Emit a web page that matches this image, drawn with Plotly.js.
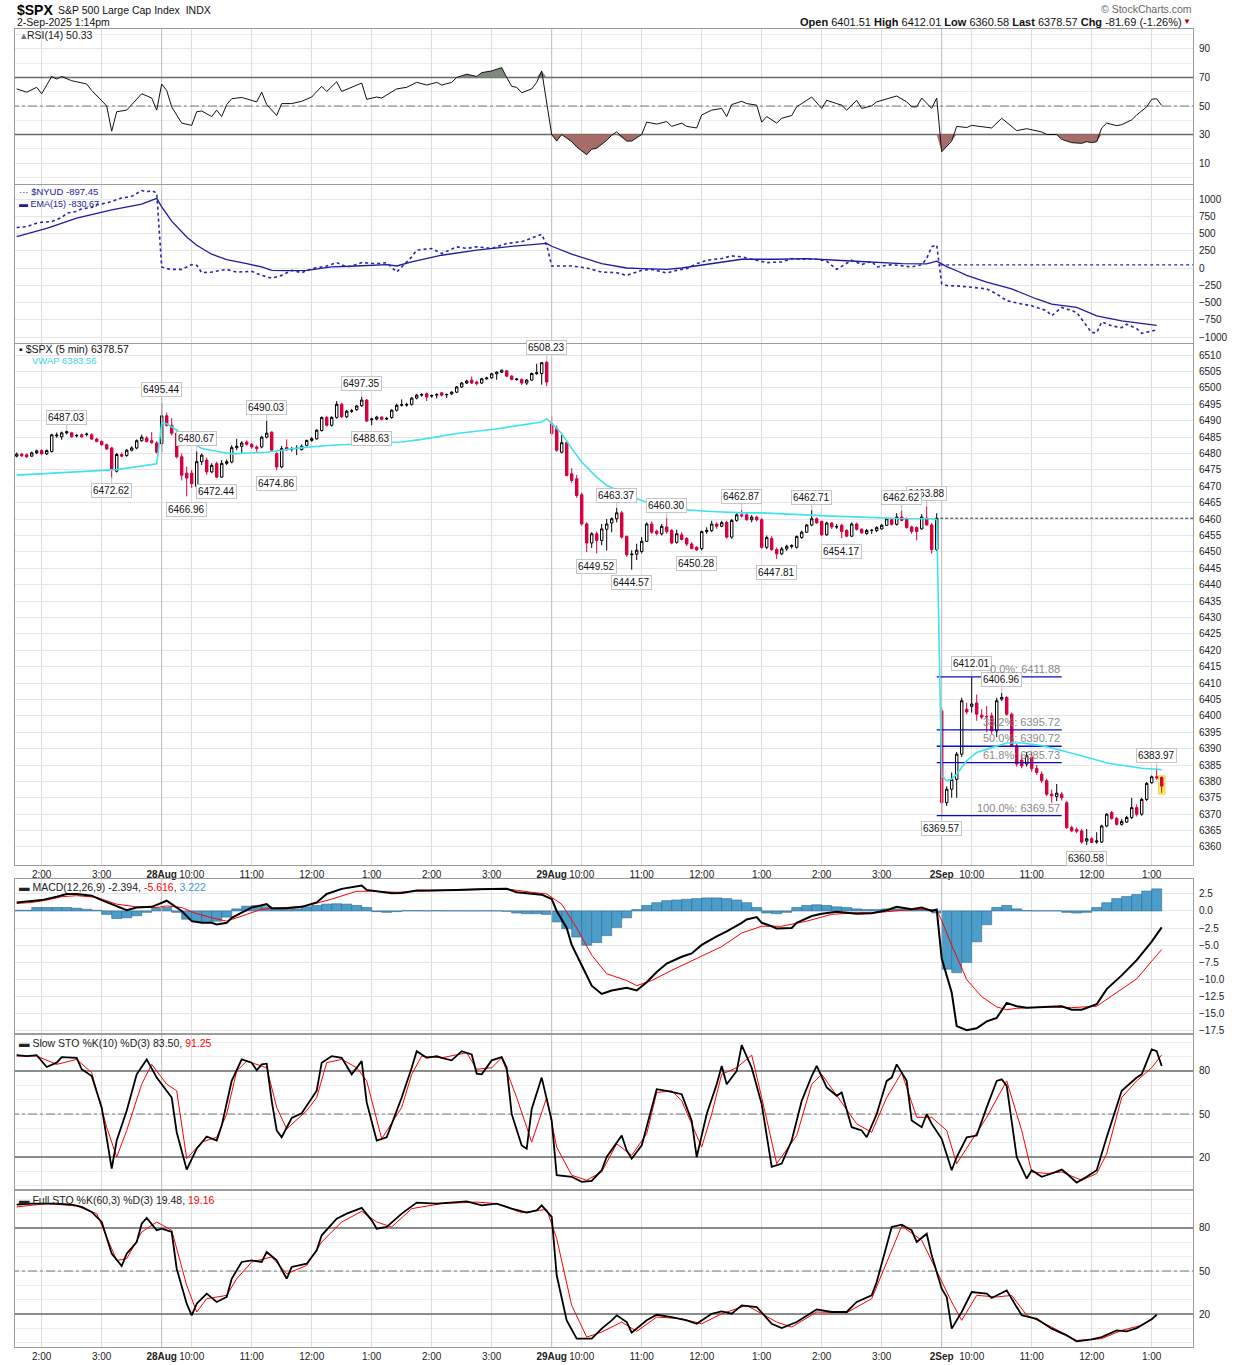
<!DOCTYPE html>
<html><head><meta charset="utf-8">
<script src="https://cdn.plot.ly/plotly-3.0.1.min.js"></script>
<style>html,body{margin:0;padding:0;background:#fff}#chart{width:1240px;height:1365px}</style>
</head><body><div id="chart"></div>
<script>
// ---------------- DATA ----------------
const tickBars = [5,17,29,35,47,59,71,83,95,107,113,125,137,149,161,173,185,191,203,215,227];
const tickText = ['2:00','3:00','<b>28Aug</b>','10:00','11:00','12:00','1:00','2:00','3:00','<b>29Aug</b>','10:00','11:00','12:00','1:00','2:00','3:00','<b>2Sep</b>','10:00','11:00','12:00','1:00'];
const sessionStarts = [29,107,185];

const openP = [
6479.2,6479.8,6479.6,6479.2,6480.2,6480.9,6479.9,6480.6,6485.4,6485.1,6486.3,6486.3,6485.4,6485.7,6485.8,6485.7,6484.4,6483.7,6482.7,6481.7,6474.6,6479.7,6479.4,6481.0,6481.7,6483.9,6484.7,6483.9,6483.2,
6483.0,6491.5,6488.6,6486.2,6479.0,6474.0,6474.0,6470.0,6477.5,6478.0,
6474.4,6476.9,6472.8,6477.0,6477.4,6481.8,6482.2,6483.5,6482.8,6482.0,
6482.0,6485.0,6486.5,6480.0,6475.9,6481.8,6481.2,6481.5,6481.2,6482.5,
6484.0,6484.5,6487.0,6491.0,6488.6,6491.0,6495.0,6491.2,6492.9,6493.4,
6494.6,6496.3,6490.3,6490.5,6491.1,6490.5,6491.0,6493.2,6494.7,6494.8,
6495.0,6496.9,6497.8,6498.2,6497.5,6497.8,6498.5,6497.9,6498.2,6498.7,
6500.3,6501.5,6502.4,6501.8,6501.5,6502.8,6503.1,6504.3,6504.8,6505.2,
6503.6,6502.6,6502.6,6501.5,6502.4,6504.4,6504.4,6507.8,
6489.1,6487.6,6480.4,6483.3,6473.8,6472.3,6467.4,6458.5,6452.7,6455.5,
6453.5,6456.9,6458.8,6460.1,6461.9,6454.7,6449.1,6449.3,6450.1,6453.2,
6458.5,6456.3,6455.5,6457.6,6456.5,6452.9,6455.2,6454.1,6452.4,6451.4,
6451.0,6456.2,6456.5,6458.5,6457.8,6459.0,6454.5,6459.6,6461.3,6461.3,
6459.8,6460.6,6459.8,6451.4,6454.1,6450.7,6449.4,6450.9,6451.7,6451.4,
6454.4,6456.0,6458.2,6460.1,6459.3,6455.2,6458.8,6457.6,6458.1,6456.5,
6454.8,6458.5,6456.9,6455.6,6456.5,6456.5,6457.0,6458.1,6459.8,6458.4,
6460.6,6460.1,6457.6,6457.4,6457.0,6460.3,6458.2,6450.7,
6401.51,6373.5,6377.6,6380.6,6388.3,6402.0,6402.9,6403.9,6400.2,6399.8,
6400.0,6395.4,6405.1,6405.6,6400.5,6390.9,6386.5,6385.3,6387.3,6383.9,
6382.2,6380.2,6376.1,6375.4,6376.1,6373.5,6365.9,6365.3,6364.9,6361.8,
6362.5,6361.5,6361.5,6366.4,6370.5,6368.7,6366.9,6367.6,6369.0,6372.0,
6370.0,6374.5,6379.6,6381.4,6381.2];
const highP = [
6480.3,6480.2,6480.0,6480.6,6481.2,6481.3,6481.2,6486.0,6486.4,6486.7,6487.03,6486.6,6486.0,6486.1,6486.4,6486.2,6484.8,6484.0,6483.0,6482.0,6480.2,6480.3,6481.4,6482.2,6484.3,6485.8,6485.3,6486.5,6483.8,
6495.44,6492.5,6490.8,6487.5,6480.0,6476.0,6475.0,6480.67,6480.0,6478.8,
6477.0,6477.5,6478.0,6478.2,6482.5,6484.5,6483.8,6484.0,6483.2,6482.5,
6485.4,6490.03,6486.8,6480.5,6482.3,6484.3,6482.0,6482.5,6482.8,6484.2,
6485.0,6487.4,6491.3,6491.5,6491.4,6496.0,6495.5,6493.3,6493.6,6494.8,
6497.35,6496.6,6490.9,6491.5,6491.4,6491.2,6493.5,6495.2,6496.5,6495.5,
6497.2,6498.2,6498.4,6498.6,6498.0,6498.4,6498.8,6498.3,6499.0,6500.6,
6501.8,6502.5,6503.5,6502.2,6503.1,6503.4,6504.6,6505.1,6505.6,6505.5,
6503.9,6503.0,6502.9,6502.7,6504.7,6507.4,6507.9,6508.23,
6491.6,6488.5,6485.6,6484.0,6475.5,6473.5,6468.0,6459.0,6456.0,6456.2,
6458.5,6460.0,6460.5,6463.37,6462.5,6455.0,6450.5,6452.5,6454.5,6459.0,
6459.3,6456.8,6458.5,6460.30,6457.0,6456.8,6456.0,6454.5,6453.0,6451.8,
6456.5,6457.5,6459.5,6459.0,6459.5,6459.5,6460.0,6461.8,6462.87,6461.8,
6461.2,6461.0,6460.3,6455.0,6454.8,6451.3,6451.5,6452.2,6452.3,6455.0,
6456.5,6458.5,6462.71,6460.5,6459.5,6459.2,6459.0,6458.5,6458.6,6457.0,
6459.0,6458.9,6457.2,6457.0,6457.0,6457.8,6458.5,6460.5,6460.2,6461.8,
6462.62,6460.5,6458.0,6457.8,6461.5,6463.88,6458.8,6461.8,
6402.5,6378.5,6382.7,6389.0,6405.5,6404.0,6412.01,6406.5,6402.0,6403.0,
6401.0,6405.5,6406.96,6406.0,6401.0,6391.5,6388.0,6389.0,6389.0,6385.0,
6383.0,6380.8,6377.5,6379.2,6376.8,6374.0,6366.5,6366.0,6365.5,6365.5,
6363.0,6364.5,6366.8,6370.3,6371.0,6369.2,6368.5,6369.5,6375.0,6373.0,
6375.0,6379.8,6381.8,6383.97,6381.5];
const lowP = [
6478.8,6479.0,6478.6,6479.0,6479.8,6479.6,6479.5,6480.3,6484.8,6484.2,6485.8,6484.9,6484.9,6484.8,6485.2,6484.2,6483.4,6482.4,6481.1,6472.62,6474.2,6478.9,6479.0,6480.6,6481.3,6483.6,6483.4,6483.0,6480.0,
6480.5,6488.2,6485.5,6478.5,6471.8,6466.96,6469.5,6469.0,6476.5,6473.5,
6474.0,6472.44,6472.6,6476.5,6477.0,6481.0,6480.0,6482.4,6481.5,6480.5,
6481.6,6484.6,6480.5,6474.86,6475.5,6480.8,6480.6,6479.5,6480.9,6482.2,
6483.6,6484.2,6486.7,6488.2,6488.2,6490.6,6490.8,6490.8,6492.4,6493.0,
6494.2,6489.6,6488.63,6490.1,6490.1,6490.2,6490.6,6492.8,6494.3,6494.3,
6494.6,6496.5,6497.3,6496.0,6497.0,6496.8,6497.4,6496.9,6497.8,6498.4,
6500.0,6501.2,6501.2,6500.8,6501.2,6502.5,6502.8,6502.5,6504.5,6503.3,
6502.3,6502.2,6500.9,6500.9,6502.1,6504.0,6501.0,6500.5,
6485.5,6480.5,6480.0,6473.0,6471.0,6466.5,6458.0,6449.9,6451.2,6449.52,
6452.0,6450.4,6456.0,6459.0,6454.0,6448.5,6444.57,6447.5,6449.5,6453.0,
6455.5,6455.0,6455.0,6455.5,6452.3,6452.5,6453.5,6451.8,6450.8,6450.28,
6450.5,6455.5,6456.0,6457.0,6457.5,6454.0,6454.0,6459.2,6460.5,6459.5,
6459.0,6459.3,6451.0,6450.8,6450.3,6447.81,6449.0,6450.3,6451.0,6451.0,
6454.0,6455.8,6457.8,6458.5,6454.8,6454.9,6457.0,6457.0,6454.17,6454.5,
6454.5,6456.5,6455.5,6455.2,6455.5,6456.0,6456.8,6457.9,6458.0,6458.0,
6459.3,6457.1,6455.5,6453.5,6456.8,6458.0,6449.5,6450.2,
6369.57,6372.5,6375.0,6375.0,6387.5,6400.5,6401.0,6398.5,6399.0,6395.0,
6394.5,6393.5,6404.5,6400.0,6390.5,6384.5,6384.0,6384.5,6383.0,6382.0,
6379.5,6375.5,6373.5,6374.0,6374.2,6365.5,6364.5,6364.2,6361.0,6360.58,
6361.2,6361.0,6361.2,6366.0,6368.3,6366.5,6366.5,6367.3,6368.5,6369.3,
6369.5,6374.0,6379.3,6380.5,6376.5];
const closeP = [
6479.8,6479.3,6479.0,6480.2,6480.8,6479.9,6480.9,6485.7,6485.6,6486.3,6486.6,6485.1,6485.5,6485.1,6485.9,6484.4,6483.7,6482.7,6481.4,6475.1,6479.7,6479.2,6481.0,6481.7,6483.9,6485.0,6483.7,6483.3,6480.4,
6491.5,6488.6,6486.2,6479.0,6473.4,6472.5,6470.8,6477.5,6479.5,6474.4,
6476.4,6472.8,6477.0,6477.5,6481.8,6482.2,6483.2,6482.8,6482.0,6481.5,
6485.0,6486.2,6481.0,6475.9,6481.5,6481.2,6481.3,6481.6,6482.2,6484.0,
6484.5,6487.1,6491.0,6488.6,6491.0,6495.0,6491.2,6492.9,6493.0,6494.5,
6496.3,6489.9,6490.5,6491.1,6490.4,6490.7,6493.2,6494.7,6494.9,6494.9,
6496.9,6497.8,6498.0,6497.2,6497.7,6498.0,6497.8,6498.0,6498.7,6500.3,
6501.5,6502.1,6501.5,6501.3,6502.8,6503.0,6504.3,6504.8,6505.4,6503.6,
6502.6,6502.7,6501.5,6502.4,6504.4,6504.6,6507.7,6501.8,
6486.1,6481.0,6483.3,6473.3,6471.8,6467.2,6458.5,6452.7,6455.5,6453.5,
6457.0,6458.5,6460.1,6461.9,6454.5,6449.1,6449.3,6450.5,6453.2,6458.5,
6456.0,6455.6,6457.8,6456.2,6452.7,6455.5,6453.8,6452.4,6451.0,6450.6,
6456.2,6456.5,6458.5,6457.8,6458.9,6454.5,6459.6,6461.3,6461.0,6459.8,
6460.6,6459.8,6451.4,6454.4,6450.7,6449.4,6450.9,6451.7,6451.9,6454.7,
6456.0,6458.2,6460.1,6458.9,6455.2,6458.8,6457.6,6457.7,6456.2,6454.8,
6458.5,6456.9,6455.8,6456.5,6456.6,6457.4,6458.1,6460.1,6458.4,6460.6,
6459.6,6457.4,6456.2,6456.2,6460.6,6458.2,6450.7,6460.26,
6373.5,6377.6,6380.6,6388.3,6404.6,6401.2,6403.6,6400.5,6399.6,6399.7,
6395.4,6404.6,6405.6,6400.5,6390.9,6385.3,6384.7,6387.8,6383.9,6382.7,
6380.2,6376.1,6375.6,6376.4,6375.0,6365.9,6364.9,6364.8,6361.5,6362.5,
6361.4,6361.8,6366.4,6370.0,6368.7,6366.9,6367.8,6369.0,6372.0,6370.0,
6374.5,6379.4,6381.4,6381.1,6378.57];

const vwapPts = [[0,6473.4],[10,6474.2],[20,6475.1],[28,6476.9],[29,6489.3],[30,6489.1],[32,6487.1],[35,6483.5],[37,6481.5],[41,6480.4],[43,6479.9],[50,6480.4],[57,6481.8],[63,6482.5],[70,6483.0],[77,6483.5],[81,6484.3],[88,6486.1],[95,6487.3],[101,6488.6],[105,6489.6],[106,6490.6],
[107,6489.0],[109,6486.1],[111,6481.5],[113,6477.4],[116,6472.8],[118,6470.3],[121,6468.1],[125,6465.7],[128,6464.2],[131,6463.1],[138,6462.4],[145,6461.9],[149,6461.9],[156,6461.3],[163,6460.9],[169,6460.6],[176,6460.2],[183,6460.1],[184,6459.8],
[185,6381.8],[186,6380.2],[187,6380.7],[188,6382.2],[190,6386.3],[192,6388.8],[195,6390.3],[198,6391.7],[201,6391.7],[205,6390.9],[208,6389.8],[212,6388.3],[215,6387.0],[218,6385.6],[222,6384.6],[225,6384.0],[228,6383.7],[229,6383.56]];

const peakBars = [10,29,36,50,69,106,120,130,145,159,182,177,191,197,228];
const troughBars = [19,34,40,52,71,116,123,136,152,165,185,214];
const prevClose = 6460.26;
const fibLevels = [6411.88,6395.72,6390.72,6385.73,6369.57];
const fibNames = ['0.0%','38.2%','50.0%','61.8%','100.0%'];
const fibFromBar = 184, fibToBar = 209;
const lastBar = 229;

const rsiPts = [[0,62],[2,59.7],[4,63.1],[5,58.6],[7,70.7],[8,68.9],[9,70.7],[11,67.7],[12,67],[14,65.4],[15,60.9],[17,54],[18,50.1],[19,32.3],[20,46],[22,47.1],[24,55.1],[25,58.6],[27,55.6],[28,47.1],[29,65.4],[30,60.9],[31,49.4],[33,38],[35,36.4],[36,46],[37,46.5],[39,42.6],[40,47.1],[41,42.6],[42,51],[43,55.1],[45,56],[47,53.8],[48,52.9],[49,59.7],[50,51],[52,43.3],[53,51.7],[55,51.7],[57,53.3],[59,56.3],[61,63.8],[62,60.2],[64,67],[65,60.2],[67,63.1],[69,66.1],[70,54.7],[72,56.3],[73,55.6],[76,62],[78,63.1],[80,66.6],[82,64.7],[84,66.6],[85,64.7],[87,66.6],[88,70],[90,72.3],[92,70.7],[93,73.4],[95,74.6],[97,76.9],[98,70],[99,63.8],[100,63.1],[101,59.3],[103,62],[104,66.6],[105,74.6],[106,50.6],[107,30],[108,25.4],[109,30],[111,25],[112,21.3],[114,15.8],[115,19.7],[116,20.4],[118,25.9],[119,29.5],[120,31.8],[122,25.4],[123,25.4],[125,30],[126,38.7],[128,37.3],[130,39.1],[131,35.7],[133,38],[134,35.7],[136,34.6],[137,43.7],[139,47.1],[141,48.3],[142,42.6],[143,51],[145,53.3],[146,51.7],[148,50.6],[149,38.7],[150,42.6],[152,38],[153,41.4],[155,43.3],[156,49.4],[158,54],[159,56.3],[161,48.3],[162,54],[164,51.7],[165,50.6],[166,47.1],[168,54],[169,48.3],[171,50.1],[172,52.9],[174,55.1],[176,57],[178,52.9],[179,49.4],[180,49.4],[181,55.6],[183,48.3],[184,55.6],[185,17.9],[186,22],[187,25.4],[188,35.7],[190,34.9],[191,36.4],[194,34.9],[195,34.6],[197,41.4],[198,38.7],[200,32.7],[202,34.1],[203,33.4],[205,31.8],[206,30],[208,30],[209,26.6],[211,24.3],[213,23.8],[214,25],[215,24.3],[216,25],[217,34.6],[218,38],[220,36.2],[221,36.9],[223,40.3],[224,43.7],[226,49.4],[227,54.7],[228,55.1],[229,50.33]];

const nyudPts = [[0,586],[2,600],[4,649],[5,664],[7,673],[9,732],[10,795],[12,820],[13,859],[15,878],[16,917],[18,942],[20,991],[21,1015],[23,1039],[25,1122],[26,1103],[27,1122],[28,1088],[29,15],[30,-10],[31,-20],[33,-20],[35,49],[36,39],[37,-68],[39,-59],[42,-20],[44,-59],[47,-49],[49,-107],[51,-146],[53,-107],[55,-34],[57,-68],[59,-10],[62,29],[64,78],[66,15],[68,49],[69,78],[72,63],[74,78],[76,-59],[77,15],[79,161],[80,259],[83,283],[85,210],[88,307],[90,283],[92,307],[95,283],[98,356],[101,381],[104,454],[105,488],[106,332],[107,29],[111,29],[114,0],[117,-59],[120,-68],[122,-107],[125,-34],[127,-20],[130,-73],[132,-34],[134,-10],[136,63],[138,112],[141,137],[143,176],[145,161],[148,112],[150,78],[153,88],[155,137],[157,127],[160,127],[162,98],[164,-20],[167,112],[169,49],[171,98],[172,15],[175,49],[177,29],[179,15],[181,49],[182,137],[183,307],[184,332],[185,-229],[186,-254],[189,-264],[191,-278],[194,-303],[196,-376],[198,-473],[201,-522],[203,-547],[206,-620],[207,-693],[209,-571],[210,-596],[212,-644],[213,-742],[215,-937],[216,-937],[217,-781],[219,-839],[221,-864],[222,-815],[224,-878],[225,-947],[227,-913],[228,-897.45]];
const nyudEmaPts = [[0,454],[6,576],[12,722],[19,844],[25,927],[28,1010],[29,885],[30,775],[31,680],[34,450],[36,330],[39,200],[42,122],[46,63],[49,15],[51,-34],[54,-39],[58,-34],[63,15],[68,29],[74,49],[76,29],[79,88],[85,185],[92,259],[98,307],[104,342],[106,356],[107,315],[111,200],[117,63],[122,0],[125,-10],[130,-20],[133,0],[139,63],[145,127],[152,127],[158,137],[164,112],[171,88],[177,63],[182,60],[184,98],[185,60],[186,20],[188,-40],[190,-107],[194,-205],[199,-303],[204,-449],[207,-522],[212,-571],[216,-693],[221,-766],[226,-815],[228,-830.67]];
const nyudRef = 45;

const macdPts = [[0,1.24],[3,1.39],[5,1.58],[8,2.08],[10,2.48],[12,2.48],[15,2.23],[17,1.58],[20,0.74],[22,0.1],[24,0.5],[27,0.6],[28,0.89],[30,1.49],[31,0.99],[33,0],[35,-1.49],[37,-1.73],[39,-1.73],[40,-1.98],[42,-1.73],[43,-0.99],[45,-0.25],[47,0.5],[50,0.99],[51,0.4],[54,0.4],[57,0.6],[60,1.24],[62,2.48],[65,3.22],[67,3.47],[69,3.71],[70,3.07],[73,2.72],[75,2.57],[77,2.62],[80,2.97],[82,2.97],[85,2.97],[88,3.07],[92,3.17],[95,3.22],[98,3.22],[100,2.72],[103,2.48],[105,2.38],[107,1.73],[108,0],[110,-2.48],[111,-4.95],[113,-7.92],[115,-10.9],[117,-12.1],[119,-11.6],[122,-11.2],[124,-11.6],[126,-10.4],[128,-8.9],[130,-7.67],[133,-6.68],[135,-6.19],[137,-4.95],[140,-3.71],[142,-2.97],[145,-1.73],[146,-1.24],[148,-0.89],[149,-1.73],[151,-2.23],[152,-2.57],[155,-2.48],[156,-1.73],[159,-0.74],[161,-0.4],[164,-0.1],[168,-0.4],[171,-0.35],[174,0.1],[176,0.6],[179,0.25],[181,0.5],[183,0],[184,0.2],[185,-6.93],[187,-11.9],[188,-16.8],[190,-17.4],[192,-17.1],[194,-16.1],[196,-15.6],[198,-13.4],[200,-13.9],[202,-14.1],[206,-14],[209,-13.9],[211,-14.4],[213,-14.4],[216,-13.6],[218,-11.4],[221,-9.4],[224,-7.18],[227,-4.46],[229,-2.394]];
const signalPts = [[0,1.09],[3,1.24],[6,1.58],[9,2.08],[12,2.23],[16,1.98],[20,0.99],[24,0.6],[28,0.5],[30,0.74],[33,0.5],[36,-0.4],[39,-0.99],[42,-1.49],[46,-0.5],[49,0.25],[54,0.5],[58,0.74],[63,1.73],[68,2.87],[71,2.87],[76,2.72],[80,2.87],[85,2.97],[92,3.17],[98,3.22],[103,2.72],[106,2.48],[109,0.99],[112,-2.48],[115,-6.44],[118,-9.16],[122,-10.15],[124,-10.9],[127,-10.15],[131,-8.66],[136,-6.93],[141,-5.2],[145,-3.22],[149,-2.23],[153,-2.23],[158,-1.49],[163,-0.5],[168,-0.25],[172,-0.25],[177,0.1],[182,0.25],[184,0.1],[185,-1.4],[187,-5.0],[190,-10.0],[193,-12.5],[196,-14.0],[198,-14.4],[200,-14.2],[206,-14.0],[211,-14.1],[216,-13.9],[219,-12.4],[224,-9.9],[229,-5.616]];
const histPts = [[0,0.1],[2,0.1],[4,0.5],[6,0.5],[8,0.5],[10,0.5],[12,0.4],[14,0.25],[16,0.1],[18,-0.5],
[20,-1.1],[22,-1.0],[24,-0.7],[26,-0.2],[28,0.4],[30,0.5],[32,-0.2],[34,-1.2],[36,-1.6],[38,-1.7],
[40,-1.5],[42,-0.9],[44,0.3],[46,0.7],[48,0.8],[50,0.6],[52,0.3],[54,0.2],[56,0.3],[58,0.6],
[60,0.8],[62,1.0],[64,1.05],[66,1.0],[68,0.8],[70,0.5],[72,-0.1],[74,-0.2],[76,-0.1],[78,0.05],
[80,0.05],[82,0.02],[84,0.05],[86,0.02],[88,0.02],[90,0.02],[92,0.02],[94,0.02],[96,0.02],[98,-0.05],
[100,-0.3],[102,-0.4],[104,-0.4],[106,-0.5],[108,-1.6],[110,-2.6],[112,-3.8],[114,-5.0],[116,-4.6],[118,-3.6],
[120,-2.4],[122,-1.0],[124,0.2],[126,0.8],[128,1.2],[130,1.5],[132,1.6],[134,1.7],[136,1.8],[138,1.9],
[140,1.9],[142,1.8],[144,1.6],[146,1.2],[148,0.5],[150,-0.3],[152,-0.4],[154,-0.2],[156,0.5],[158,0.8],
[160,0.9],[162,0.8],[164,0.6],[166,0.5],[168,0.3],[170,0.2],[172,0.2],[174,0.3],[176,0.3],[178,0.3],
[180,0.2],[182,0.1],[184,-0.3],[186,-8.5],[188,-9.0],[190,-7.5],[192,-4.5],[194,-2.0],[196,0.5],[198,0.8],
[200,0.3],[202,0.05],[204,0.02],[206,0.02],[208,0.02],[210,-0.2],[212,-0.3],[214,-0.2],[216,0.5],[218,1.2],
[220,1.8],[222,2.1],[224,2.4],[226,2.9],[228,3.222]];

const slowKPts = [[0,91.1],[2,90.4],[4,91.1],[6,82.8],[8,85.8],[9,89.7],[12,89.2],[13,81.2],[15,76.5],[17,54.6],[19,11.9],[20,31.5],[22,52.3],[24,77.7],[26,88.1],[28,75.4],[31,61.5],[32,37.3],[34,11.2],[36,25.8],[38,34.3],[40,31.5],[41,41.9],[43,73.1],[45,88.1],[47,85.8],[48,80.5],[49,84.6],[50,85.1],[51,59.2],[52,38.5],[53,33.8],[55,47.2],[57,50.5],[60,66.2],[61,85.8],[63,90.4],[65,89.2],[67,77.7],[69,86.9],[70,58.1],[72,31.5],[74,33.8],[77,61.5],[79,82.3],[80,93.8],[82,89.2],[84,90.4],[85,89.2],[87,87.4],[89,93.8],[91,91.5],[92,78.2],[93,77.7],[95,87.4],[97,89.7],[98,82.3],[99,50],[101,28.1],[102,25.8],[103,53.5],[105,75.4],[107,45.4],[108,7.3],[111,6.2],[113,2.7],[115,3.4],[117,10.8],[118,20],[121,35],[122,24.6],[123,18.8],[125,28.1],[127,54.6],[128,67.3],[130,66.2],[133,63.8],[135,45.4],[136,20],[138,50],[140,70.8],[141,83.5],[142,70.8],[144,80],[145,98],[147,82.3],[149,56.9],[151,13.1],[153,15.4],[155,31.5],[157,59.2],[159,76.5],[160,83.5],[162,68.5],[164,62.7],[165,65],[167,40.8],[169,38.5],[170,33.8],[172,50],[174,73.1],[175,75.4],[176,84.6],[178,73.1],[179,45.4],[181,40.8],[182,50],[183,43.1],[185,32.7],[187,10.8],[188,20],[190,33.8],[192,35],[194,54.6],[196,73.1],[197,74.2],[198,69.6],[200,20],[202,5],[203,10.8],[205,6.2],[207,8.5],[209,11.2],[210,8.5],[212,2.2],[214,6.2],[216,10.8],[218,33.8],[220,54.6],[221,66.2],[224,75.4],[225,77.7],[227,95],[228,93.8],[229,83.5]];
const slowDPts = [[0,90.4],[4,90.4],[8,84.6],[12,88.1],[15,78.8],[18,40.8],[20,20],[22,38.5],[25,70.8],[27,84.6],[30,70.8],[32,66.2],[34,18.8],[37,30.4],[40,33.8],[42,50],[44,80],[46,86.9],[50,82.3],[52,54.6],[54,39.6],[58,52.3],[60,61.5],[62,85.8],[65,88.1],[68,82.3],[70,73.1],[73,32.7],[77,54.6],[79,77.7],[81,90.4],[85,89.2],[90,92.7],[92,81.2],[95,82.3],[97,89.2],[100,61.5],[103,30.4],[106,61.5],[108,26.9],[111,7.3],[114,3.8],[117,9.6],[120,29.2],[123,21.2],[126,36.2],[128,65],[131,66.2],[133,59.2],[137,26.9],[139,50],[141,77.7],[144,82.3],[147,91.1],[149,61.5],[152,15.4],[156,35],[159,70.8],[161,77.7],[164,62.7],[168,43.1],[171,37.3],[174,61.5],[177,78.8],[180,47.7],[183,47.7],[186,38.5],[188,15.4],[191,31.5],[194,47.7],[198,73.1],[201,38.5],[203,9.6],[206,8.5],[209,9.6],[213,3.8],[216,8.5],[218,22.3],[221,61.5],[224,73.1],[227,82.3],[229,91.25]];
const fullKPts = [[0,96.3],[3,97],[8,97],[11,96.3],[13,94.7],[15,91.2],[17,84.2],[19,62.1],[21,53.5],[22,62.1],[24,70.2],[25,83],[26,87],[28,78.4],[29,79.5],[31,77.2],[32,51.6],[34,27.2],[35,19.1],[36,27.2],[38,34.2],[40,28.4],[42,31.9],[43,44.6],[45,56.3],[47,57.4],[49,56.3],[50,63.3],[52,57.4],[54,44.6],[55,52.8],[58,55.1],[60,64.4],[61,74.9],[64,86.5],[66,90],[69,94],[71,85.3],[72,79.5],[74,80.7],[77,90],[80,97.7],[84,97],[87,97.7],[90,98.6],[93,95.8],[96,97],[99,93.5],[102,90.7],[104,92.3],[105,95.8],[107,87.7],[108,47],[110,15.6],[112,2.8],[115,2.8],[117,9.8],[119,15.6],[120,19.1],[122,14.4],[123,7],[126,15.6],[128,19.5],[131,17.9],[134,15.6],[136,13.2],[139,20.2],[141,21.8],[143,20.2],[145,26],[148,24.9],[151,13.2],[153,10.2],[156,14.4],[160,23.2],[163,21.4],[166,21.4],[168,28.4],[171,33],[172,42.3],[174,66.7],[175,80.7],[177,82.3],[179,78.4],[180,70.2],[182,76],[183,60.9],[185,37.7],[186,31.9],[187,9.8],[189,21.4],[191,35.3],[194,34.2],[195,31.2],[198,36.5],[201,19.1],[204,16.7],[207,9.8],[210,5.1],[212,0.9],[215,2.3],[217,3.9],[220,8.6],[222,7.9],[224,10.2],[227,16.3],[228,19.48]];
const fullDPts = [[0,94.7],[6,97],[12,95.4],[16,90],[20,57.4],[22,58.6],[25,77.2],[28,84.2],[31,78.4],[34,40],[36,21.4],[38,30.7],[42,33],[44,44.6],[47,56.3],[51,59.8],[54,48.1],[58,53.9],[61,70.2],[65,84.2],[69,91.6],[72,84.2],[75,80.7],[79,93.5],[85,97],[92,98.1],[96,97],[101,90.7],[106,93],[108,72.6],[111,26],[114,3.9],[117,7.4],[121,14.4],[124,7.9],[128,17.9],[133,16.7],[137,13.2],[141,20.2],[146,26],[152,14.4],[155,10.9],[160,21.4],[166,20.9],[171,30.7],[174,56.3],[177,81.4],[181,71.4],[184,49.3],[187,28.4],[189,15.6],[192,33],[196,31.9],[199,33],[202,19.1],[207,10.9],[212,1.6],[217,2.8],[221,8.6],[225,12.1],[228,19.16]];

// ---------------- LAYOUT HELPERS ----------------
const W=1240,H=1365,ML=15,MR=47,MT=29,MB=18;
const PH=H-MT-MB, PW=W-ML-MR;
const dom=(top,bot)=>[(H-MB-bot)/PH,(H-MB-top)/PH];
const px=x=>(x-ML)/PW;
const py=y=>(H-MB-y)/PH;
const XR=[-0.34,235.26];
const SANS='Liberation Sans, Arial, sans-serif';
const NARROW='Liberation Sans Narrow, Arial Narrow, Liberation Sans, Arial, sans-serif';
const GRID='#dedede', BORDER='#9c9c9c', RED='#d4003c', CYAN='#3fe3f0', NAVY='#1c1ca0';

const panels=[
 {n:'',  top:29,  bot:184, range:[-4.7,104]},
 {n:'2', top:185, bot:343, range:[-1087,1203]},
 {n:'3', top:344, bot:865, range:[6354.5,6513.4]},
 {n:'4', top:879, bot:1033,range:[-17.8,4.66]},
 {n:'5', top:1035,bot:1189,range:[-2.3,105.1]},
 {n:'6', top:1191,bot:1347,range:[-3.0,105.8]}
];
const layout={width:W,height:H,margin:{l:ML,r:MR,t:MT,b:MB},paper_bgcolor:'#fff',plot_bgcolor:'#fff',
  showlegend:false,hovermode:false,font:{family:SANS,size:10,color:'#222'},annotations:[],shapes:[]};
const yExtra={
 '': {tickmode:'array',tickvals:[10,30,50,70,90],minor:{dtick:10,showgrid:true,gridcolor:'#ececec'}},
 '2':{dtick:250,tick0:0},
 '3':{tickmode:'array',tickvals:Array.from({length:31},(_,k)=>6360+5*k)},
 '4':{dtick:2.5,tick0:0,tickformat:'.1f'},
 '5':{tickmode:'array',tickvals:[20,50,80],minor:{dtick:10,showgrid:true,gridcolor:'#ececec'}},
 '6':{tickmode:'array',tickvals:[20,50,80],minor:{dtick:10,showgrid:true,gridcolor:'#ececec'}}
};
const T=[];
panels.forEach(p=>{
  layout['xaxis'+p.n]={anchor:'y'+p.n,domain:[0,1],range:XR,tickmode:'array',tickvals:tickBars,ticktext:tickText,
    showticklabels:(p.n==='3'||p.n==='6'),ticks:'',ticklen:0,tickangle:0,showgrid:true,gridcolor:GRID,zeroline:false,showline:true,mirror:true,
    linecolor:BORDER,linewidth:1,tickfont:{size:10,color:'#222',family:SANS},fixedrange:true,rangeslider:{visible:false}};
  layout['yaxis'+p.n]=Object.assign({anchor:'x'+p.n,domain:dom(p.top,p.bot),range:p.range,side:'right',ticks:'',
    showgrid:true,gridcolor:'#e6e6e6',zeroline:false,showline:true,mirror:true,linecolor:BORDER,linewidth:1,
    tickfont:{size:10,color:'#222',family:SANS},fixedrange:true,ticklabelstandoff:3},yExtra[p.n]);
  // session separators (drawn as a trace so they sit above the grid)
  const sx=[],sy=[];
  sessionStarts.forEach(s=>{sx.push(s,s,null);sy.push(p.range[0],p.range[1],null);});
  T.push({type:'scatter',mode:'lines',x:sx,y:sy,xaxis:'x'+p.n,yaxis:'y'+p.n,line:{color:'#c2c2c2',width:1},hoverinfo:'skip',connectgaps:false});
});
function hline(n,v,color,width,dash){T.push({type:'scatter',mode:'lines',x:[XR[0]-1,XR[1]+1],y:[v,v],xaxis:'x'+n,yaxis:'y'+n,line:{color,width,dash:dash||'solid'},hoverinfo:'skip'});}
hline('',70,'#6a6a6a',1.3); hline('',30,'#6a6a6a',1.3); hline('',50,'#7a7a7a',1,'dashdot');
['5','6'].forEach(n=>{hline(n,80,'#6a6a6a',1.3);hline(n,20,'#6a6a6a',1.3);hline(n,50,'#7a7a7a',1,'dashdot');});
// yellow highlight of the last bar
layout.shapes.push({type:'rect',xref:'x3',yref:'y3',x0:lastBar-0.65,x1:lastBar+0.65,y0:lowP[lastBar]-0.4,y1:highP[lastBar]+0.2,fillcolor:'#fbf35a',line:{color:'#e8d84a',width:1},layer:'below'});

// ---------------- TRACES ----------------
const xs=p=>p.map(a=>a[0]), ys=p=>p.map(a=>a[1]);
function line(pts,n,color,width,dash){T.push({type:'scatter',mode:'lines',x:xs(pts),y:ys(pts),xaxis:'x'+n,yaxis:'y'+n,line:{color,width,dash:dash||'solid'},hoverinfo:'skip'});}
// RSI fills
const rx=xs(rsiPts), rv=ys(rsiPts);
T.push({type:'scatter',mode:'lines',x:rx,y:rx.map(()=>70),xaxis:'x',yaxis:'y',line:{width:0,color:'rgba(0,0,0,0)'},hoverinfo:'skip'});
T.push({type:'scatter',mode:'lines',x:rx,y:rv.map(v=>Math.max(v,70)),xaxis:'x',yaxis:'y',fill:'tonexty',fillcolor:'#7e8a7d',line:{width:0,color:'rgba(0,0,0,0)'},hoverinfo:'skip'});
T.push({type:'scatter',mode:'lines',x:rx,y:rx.map(()=>30),xaxis:'x',yaxis:'y',line:{width:0,color:'rgba(0,0,0,0)'},hoverinfo:'skip'});
T.push({type:'scatter',mode:'lines',x:rx,y:rv.map(v=>Math.min(v,30)),xaxis:'x',yaxis:'y',fill:'tonexty',fillcolor:'#a66d68',line:{width:0,color:'rgba(0,0,0,0)'},hoverinfo:'skip'});
line(rsiPts,'','#111',1);
// NYUD
line(nyudEmaPts,'2',NAVY,1.3);
line(nyudPts,'2','#2525b0',1.6,'dot');
T.push({type:'scatter',mode:'lines',x:[sessionStarts[2]-0.3,XR[1]+2],y:[nyudRef,nyudRef],xaxis:'x2',yaxis:'y2',line:{color:'#2525b0',width:1.4,dash:'dot'},hoverinfo:'skip'});
// Price
const bars=openP.map((_,i)=>i);
T.push({type:'scatter',mode:'lines',x:[sessionStarts[2]-0.3,XR[1]+2],y:[prevClose,prevClose],xaxis:'x3',yaxis:'y3',line:{color:'#333',width:1,dash:'3px,2px'},hoverinfo:'skip'});
fibLevels.forEach(v=>T.push({type:'scatter',mode:'lines',x:[fibFromBar,fibToBar],y:[v,v],xaxis:'x3',yaxis:'y3',line:{color:'#0a0ac8',width:1.3},hoverinfo:'skip'}));
line(vwapPts,'3',CYAN,1.6);
T.push({type:'candlestick',x:bars,open:openP,high:highP,low:lowP,close:closeP,xaxis:'x3',yaxis:'y3',whiskerwidth:0,
  increasing:{line:{color:'#000',width:1},fillcolor:'#ffffff'},decreasing:{line:{color:RED,width:1},fillcolor:RED},hoverinfo:'skip'});
// MACD
T.push({type:'bar',x:xs(histPts),y:ys(histPts),width:2,xaxis:'x4',yaxis:'y4',marker:{color:'#4c9dca',line:{color:'#2c6a92',width:0.6}},hoverinfo:'skip'});
line(signalPts,'4','#f00',1);
line(macdPts,'4','#000',2);
// Slow STO
line(slowDPts,'5','#f00',1);
line(slowKPts,'5','#000',1.8);
// Full STO
line(fullDPts,'6','#f00',1);
line(fullKPts,'6','#000',1.8);

// ---------------- ANNOTATIONS ----------------
const A=layout.annotations;
function txt(x,y,text,size,color,anchor,family){A.push({xref:'paper',yref:'paper',x:px(x),y:py(y),xanchor:anchor||'left',yanchor:'middle',text,showarrow:false,font:{size,color:color||'#111',family:family||SANS}});}
txt(15,10,'<b>$SPX</b>',14,'#000','left',NARROW);
txt(56,10,'S&amp;P 500 Large Cap Index  INDX',10.5,'#111','left',NARROW);
txt(15,22,'2-Sep-2025 1:14pm',10.5,'#111','left',NARROW);
txt(1194,9,'© StockCharts.com',10.5,'#666','right',NARROW);
txt(1184,22,'<b>Open</b> 6401.51 <b>High</b> 6412.01 <b>Low</b> 6360.58 <b>Last</b> 6378.57 <b>Chg</b> -81.69 (-1.26%)',11,'#111','right',NARROW);
txt(1193,22,'▼',8,'#b00000','right');
txt(19,35,'<span style="color:#777">▴</span>RSI(14) 50.33',10.5,'#222');
txt(17,192,'<span style="color:#2525b0">···</span> $NYUD -897.45',9.5,NAVY);
txt(17,204,'<span style="color:#1c1ca0">▬</span> EMA(15) -830.67',9,NAVY);
txt(17,349,'▪ $SPX (5 min) 6378.57',10.5,'#111');
txt(30,360,'VWAP 6383.56',9.5,'#3ad8e6');
txt(17,887,'▬ MACD(12,26,9) -2.394, <span style="color:#f00">-5.616</span>, <span style="color:#3a9ad9">3.222</span>',10.5,'#222');
txt(17,1043,'▬ Slow STO %K(10) %D(3) 83.50, <span style="color:#f00">91.25</span>',10.5,'#222');
txt(17,1200,'▬ Full STO %K(60,3) %D(3) 19.48, <span style="color:#f00">19.16</span>',10.5,'#222');
function tag(i,v,above){A.push({xref:'x3',yref:'y3',x:i,y:v,text:v.toFixed(2),showarrow:true,arrowhead:0,arrowwidth:1,arrowcolor:'#c2c2c2',
  ax:0,ay:above?-13:13,bgcolor:'#fff',bordercolor:'#c6c6c6',borderwidth:1,borderpad:1,font:{size:10,color:'#111',family:SANS}});}
peakBars.forEach(i=>tag(i,highP[i],true));
troughBars.forEach(i=>tag(i,lowP[i],false));
fibLevels.forEach((v,k)=>A.push({xref:'x3',yref:'y3',x:fibToBar,y:v,xanchor:'right',yanchor:'bottom',text:fibNames[k]+': '+v.toFixed(2),showarrow:false,font:{size:11,color:'#8a8a8a',family:SANS}}));

Plotly.newPlot('chart',T,layout,{displayModeBar:false,staticPlot:true});
</script></body></html>
